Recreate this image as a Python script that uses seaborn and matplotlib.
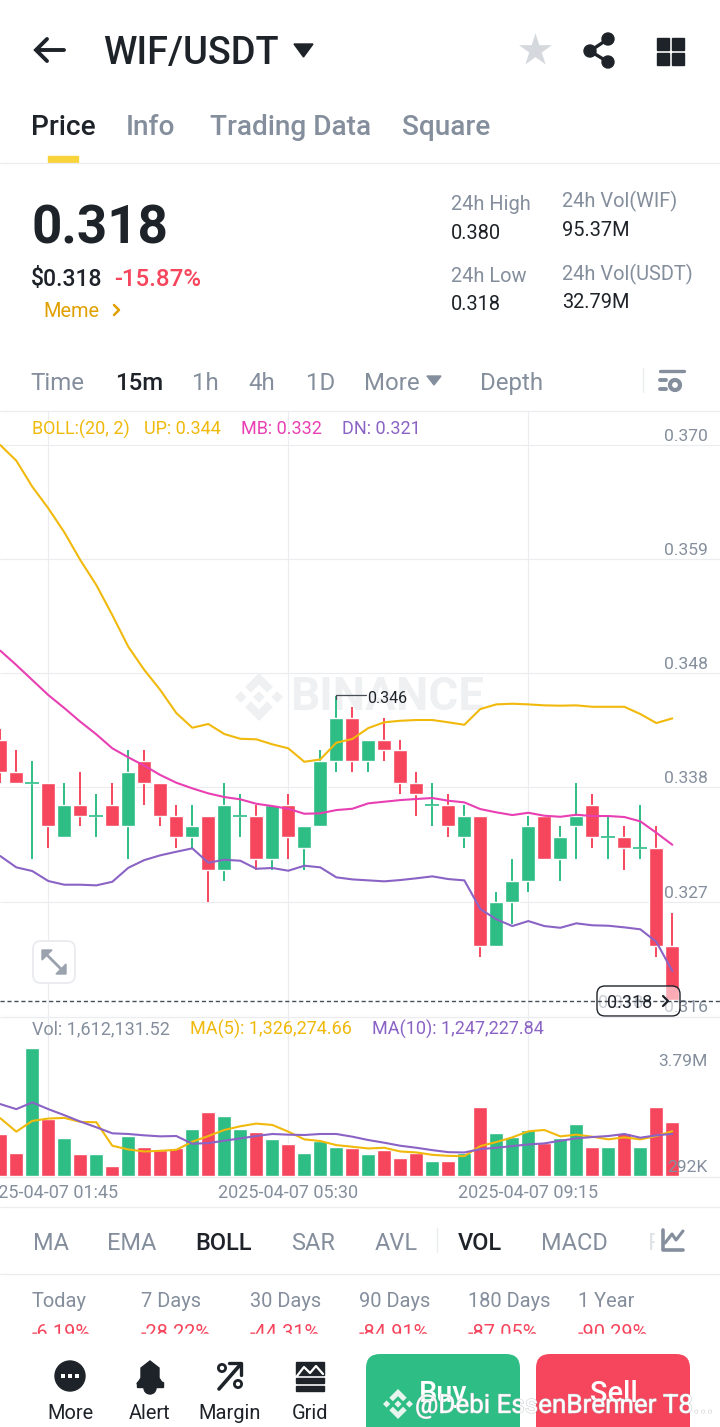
import numpy as np
import pandas as pd
import seaborn as sns
import matplotlib.pyplot as plt
import matplotlib.patheffects as pe
from matplotlib.patches import FancyBboxPatch, Polygon, Circle, Rectangle
from matplotlib.transforms import ScaledTranslation

# candles, 15m WIF/USDT
opens = [.342, .339, .338, .338, .333, .336, .335, .336, .334, .340, .338, .335, .333, .335, .330, .335, .335, .331, .336, .332, .334, .340,
         .344, .340, .342, .341, .338, .336, .336, .333, .335, .323, .327, .329, .335, .331, .334, .336, .333, .333, .332, .332, .323]
closes = [.339, .338, .338, .334, .336, .335, .335, .334, .339, .338, .335, .333, .334, .330, .336, .335, .331, .336, .333, .334, .340, .344,
          .340, .342, .341, .338, .337, .336, .334, .335, .323, .327, .329, .334, .331, .333, .335, .333, .333, .332, .332, .323, .318]
highs = [.343, .341, .340, .338, .338, .339, .337, .338, .341, .341, .338, .336, .336, .335, .338, .337, .336, .336, .337, .334, .341, .346,
         .345, .342, .344, .342, .339, .338, .337, .336, .335, .328, .331, .335, .335, .334, .338, .337, .335, .334, .336, .334, .326]
lows = [.338, .338, .331, .332, .333, .334, .333, .334, .331, .336, .334, .332, .332, .327, .329, .333, .330, .330, .331, .330, .334, .339,
        .339, .339, .340, .337, .335, .334, .333, .332, .322, .323, .325, .328, .331, .329, .331, .332, .331, .330, .331, .322, .318]

boll_up = [.36915, .36771, .36531, .36332, .36111, .35855, .35625, .35348, .35056, .34842, .34657, .34445, .34310, .34344, .34252,
           .34208, .34203, .34157, .34120, .33996, .34018, .34172, .34206, .34307, .34360, .34374, .34381, .34381, .34360, .34337,
           .34482, .34525, .34531, .34525, .34516, .34513, .34516, .34503, .34503, .34503, .34436, .34353, .34396]
boll_mb = [.35020, .34888, .34749, .34611, .34491, .34365, .34249, .34120, .34037, .33960, .33874, .33803, .33751, .33705, .33671,
           .33650, .33609, .33588, .33563, .33517, .33521, .33551, .33563, .33613, .33628, .33643, .33653, .33662, .33637, .33622,
           .33560, .33530, .33505, .33526, .33499, .33489, .33508, .33496, .33496, .33487, .33447, .33342, .33231]
boll_dn = [.33127, .33023, .32989, .32897, .32863, .32863, .32857, .32890, .33019, .33090, .33134, .33167, .33198, .33066, .33093,
           .33084, .33010, .33017, .32992, .33038, .33023, .32931, .32912, .32903, .32894, .32906, .32922, .32940, .32915, .32903,
           .32639, .32544, .32482, .32528, .32482, .32466, .32507, .32489, .32485, .32470, .32452, .32337, .32067]

volumes = [1244000, 667000, 3790000, 1680000, 1134000, 647000, 647000, 292000, 1184000, 856000, 756000, 826000, 1393000, 1881000, 1771000,
           1403000, 1313000, 1095000, 955000, 667000, 1025000, 846000, 826000, 647000, 766000, 547000, 687000, 448000, 438000, 687000,
           2040000, 1264000, 1144000, 1353000, 965000, 1114000, 1532000, 866000, 866000, 1264000, 856000, 2040000, 1612131]
vol_ma5 = [1711000, 1313000, 1632000, 1701000, 1721000, 1602000, 1592000, 896000, 786000, 726000, 746000, 776000, 1015000, 1184000, 1363000,
           1473000, 1552000, 1512000, 1313000, 1085000, 1035000, 915000, 866000, 816000, 836000, 726000, 697000, 627000, 597000, 587000,
           886000, 1005000, 1144000, 1323000, 1363000, 1174000, 1224000, 1164000, 1085000, 1144000, 1085000, 1184000, 1326274]
vol_ma10 = [2129000, 1980000, 2179000, 1980000, 1801000, 1612000, 1443000, 1264000, 1244000, 1204000, 1174000, 1184000, 955000, 975000, 1045000,
            1114000, 1184000, 1244000, 1224000, 1214000, 1244000, 1244000, 1164000, 1065000, 985000, 896000, 836000, 766000, 706000, 697000,
            796000, 836000, 886000, 935000, 965000, 1045000, 1114000, 1154000, 1184000, 1244000, 1134000, 1204000, 1247227]

price_ticks = [.36915, .35865, .34814, .33759, .32703, .31653]
price_labels = ["0.370", "0.359", "0.348", "0.338", "0.327", "0.316"]
date_ticks = [3, 18, 33]
date_labels = ["2025-04-07 01:45", "2025-04-07 05:30", "2025-04-07 09:15"]

tabs = [("Price", 31), ("Info", 126), ("Trading Data", 210), ("Square", 402)]
intervals = [("Time", 30), ("15m", 115), ("1h", 192), ("4h", 248), ("1D", 306), ("More", 364), ("Depth", 480)]
indicators = [("MA", 33), ("EMA", 107), ("BOLL", 195), ("SAR", 291), ("AVL", 375), ("VOL", 458), ("MACD", 541)]
periods = ["Today", "7 Days", "30 Days", "90 Days", "180 Days", "1 Year"]
period_changes = ["-6.19%", "-28.22%", "-44.31%", "-84.91%", "-87.05%", "-90.29%"]
period_x = [32, 141, 250, 359, 468, 578]

GREEN = "#2ebd85"
RED = "#f6465d"
GOLD = "#f0b90b"
PINK = "#e83fb2"
PURPLE = "#8a63c5"
DARK = "#1e2329"
GREY = "#848e9c"
GRID = "#eaecef"

sns.set_theme(style="white")
plt.rcParams["font.family"] = ["Roboto", "DejaVu Sans"]

W, H = 720, 1427
fig = plt.figure(figsize=(W / 100, H / 100), dpi=100, facecolor="white")


def px_axes(top, bottom):
    return fig.add_axes([0, 1 - bottom / H, 1, (bottom - top) / H])


ax = px_axes(411, 1016)
ax_vol = px_axes(1016, 1176)
ui = fig.add_axes([0, 0, 1, 1], zorder=10)
ui.set_xlim(0, W)
ui.set_ylim(H, 0)
ui.axis("off")
ui.patch.set_alpha(0)


def binance_logo(target, cx, cy, r, color, zorder):
    # unit shapes, y down
    shapes = [
        [(0, -.24), (.24, 0), (0, .24), (-.24, 0)],
        [(-.76, -.24), (-.52, 0), (-.76, .24), (-1, 0)],
        [(.76, -.24), (1, 0), (.76, .24), (.52, 0)],
        [(0, -1), (.58, -.42), (.34, -.18), (0, -.52), (-.34, -.18), (-.58, -.42)],
        [(0, 1), (.58, .42), (.34, .18), (0, .52), (-.34, .18), (-.58, .42)],
    ]
    for s in shapes:
        pts = [(cx + r * a, cy + r * b) for a, b in s]
        target.add_patch(Polygon(pts, closed=True, color=color, lw=0, zorder=zorder,
                                 transform=ui.transData, clip_on=False))


x = np.arange(len(opens))
xlim = (-0.02, 44.98)
is_up = np.array(closes) >= np.array(opens)
colors = [GREEN if u else RED for u in is_up]

# price panel
ax.set_xlim(xlim)
ax.set_ylim(.31653, .37229)
ax.vlines(date_ticks, .31653, .37229, color=GRID, lw=0.8, zorder=0)
ax.hlines(price_ticks, *xlim, color=GRID, lw=0.8, zorder=0)

ax.text(290, 697, "BINANCE", transform=ui.transData, fontsize=33, fontweight="bold",
        color="#eef0f2", ha="left", va="center", zorder=0.5, clip_on=False)
binance_logo(ax, 259, 697, 24, "#eef0f2", 0.5)

ax.vlines(x, lows, highs, color=colors, lw=1.4, zorder=2)
bodies = np.abs(np.array(closes) - np.array(opens))
bottoms = np.minimum(opens, closes)
ax.bar(x, bodies, bottom=bottoms, width=0.875, color=colors, zorder=3)
flat = bodies == 0
ax.hlines(np.array(closes)[flat], x[flat] - 0.44, x[flat] + 0.44, color=GREEN, lw=1.2, zorder=3)

boll = pd.DataFrame({"x": x, "up": boll_up, "mb": boll_mb, "dn": boll_dn})
sns.lineplot(data=boll, x="x", y="up", color=GOLD, lw=1.5, ax=ax, zorder=4, errorbar=None)
sns.lineplot(data=boll, x="x", y="mb", color=PINK, lw=1.5, ax=ax, zorder=4, errorbar=None)
sns.lineplot(data=boll, x="x", y="dn", color=PURPLE, lw=1.5, ax=ax, zorder=4, errorbar=None)

ax.set_xlabel("")
ax.set_ylabel("")
ax.set_xticks([])
ax.yaxis.tick_right()
ax.set_yticks(price_ticks)
ax.set_yticklabels(price_labels, fontsize=12.6, color=GREY, ha="right", va="bottom")
ax.tick_params(axis="y", length=0, pad=-8.5)
up_1px = ScaledTranslation(0, 1 / 100, fig.dpi_scale_trans)
for t in ax.get_yticklabels():
    t.set_transform(t.get_transform() + up_1px)
sns.despine(ax=ax, left=True, right=True, top=True, bottom=True)
ax.patch.set_alpha(0)

# volume panel
ax_vol.set_xlim(xlim)
vol_df = pd.DataFrame({"x": x, "vol": volumes, "dir": ["up" if u else "down" for u in is_up],
                       "ma5": vol_ma5, "ma10": vol_ma10})
ax_vol.vlines(date_ticks, 0, 5360000, color=GRID, lw=0.8, zorder=0)
sns.barplot(data=vol_df, x="x", y="vol", hue="dir", palette={"up": GREEN, "down": RED}, native_scale=True,
            dodge=False, width=0.875, legend=False, ax=ax_vol, zorder=3, saturation=1)
sns.lineplot(data=vol_df, x="x", y="ma5", color=GOLD, lw=1.5, ax=ax_vol, zorder=4, errorbar=None)
sns.lineplot(data=vol_df, x="x", y="ma10", color=PURPLE, lw=1.5, ax=ax_vol, zorder=4, errorbar=None)
ax_vol.set_xlim(xlim)
ax_vol.set_ylim(0, 4738000)
ax_vol.set_xlabel("")
ax_vol.set_ylabel("")
ax_vol.set_yticks([])
ax_vol.set_xticks(date_ticks)
ax_vol.set_xticklabels(date_labels, fontsize=13, color=GREY)
ax_vol.tick_params(axis="x", length=0, pad=6)
sns.despine(ax=ax_vol, left=True, right=True, top=True, bottom=True)
ax_vol.patch.set_alpha(0)


def label(x0, y0, s, size, color=DARK, weight="normal", ha="left", **kw):
    # roboto sits a bit high with va=center, nudge it down
    return ui.text(x0, y0 + size * 0.07, s, fontsize=size * 0.72, color=color, fontweight=weight, ha=ha, va="center", **kw)


def rule(y0, color=GRID, lw=0.9, x0=0, x1=W):
    ui.plot([x0, x1], [y0, y0], color=color, lw=lw, solid_capstyle="butt")


def box(x0, y0, w, h, r, **kw):
    ui.add_patch(FancyBboxPatch((x0 + r, y0 + r), w - 2 * r, h - 2 * r, boxstyle=f"round,pad={r}", **kw))


# header
ui.plot([37, 64], [50, 50], color=DARK, lw=2.8, solid_capstyle="round")
ui.plot([47, 36, 47], [39, 50, 61], color=DARK, lw=2.8, solid_capstyle="round", solid_joinstyle="miter")
label(103, 51, "WIF/USDT", 38, weight="medium")
ui.add_patch(Polygon([[294, 44], [313, 44], [303.5, 57]], color=DARK))
ui.scatter([535], [50], s=620, marker="*", color="#d5d9de", linewidths=0)
for cx, cy in [(608, 39), (590, 51), (608, 62)]:
    ui.add_patch(Circle((cx, cy), 6, color=DARK))
ui.plot([608, 590, 608], [39, 51, 62], color=DARK, lw=2.4)
for gx, gy in [(657, 38), (672, 38), (657, 53), (672, 53)]:
    ui.add_patch(Rectangle((gx, gy), 11.5, 11.5, color=DARK))

for name, tx in tabs:
    label(tx, 126, name, 28, color=DARK if name == "Price" else GREY, weight="medium")
ui.add_patch(Rectangle((48, 156), 30, 6, color="#f8d33a"))
rule(162.5)

label(31, 225, "0.318", 53, weight="bold")
label(31, 278, "$0.318", 23, weight="medium")
label(114, 278, "-15.87%", 24, color=RED, weight="medium")
label(43, 310, "Meme", 20, color="#e0a000")
ui.plot([114, 119, 114], [305, 310, 315], color="#e0a000", lw=1.8)

label(451, 203, "24h High", 20, color=GREY)
label(451, 232, "0.380", 20)
label(451, 275, "24h Low", 20, color=GREY)
label(451, 303, "0.318", 20)
label(562, 200, "24h Vol(WIF)", 20, color=GREY)
label(562, 229, "95.37M", 20)
label(562, 273, "24h Vol(USDT)", 20, color=GREY)
label(562, 301, "32.79M", 20)

for name, tx in intervals:
    active = name == "15m"
    label(tx, 382, name, 24, color=DARK if active else GREY, weight="medium" if active else "normal")
ui.add_patch(Polygon([[427, 376], [441, 376], [434, 385]], color=GREY))
ui.plot([642.5, 642.5], [368, 392], color=GRID, lw=1)
ui.plot([660, 684], [371, 371], color=GREY, lw=2.4)
ui.plot([660, 666], [380, 380], color=GREY, lw=2.8)
ui.plot([660, 666], [389, 389], color=GREY, lw=2.8)
ui.add_patch(Circle((675, 385), 5, fill=False, ec=GREY, lw=3))
rule(410.5)

# indicator legends
label(32, 428, "BOLL:(20, 2)", 18, color=GOLD)
label(144, 428, "UP: 0.344", 18, color=GOLD)
label(241, 428, "MB: 0.332", 18, color=PINK)
label(342, 428, "DN: 0.321", 18, color=PURPLE)

# high marker
ui.plot([336, 336, 366], [699, 694.5, 694.5], color="#474d57", lw=0.9)
label(367, 697, "0.346", 16)

# expand button
box(33, 941, 42, 42, 8, fc="white", ec=GRID, lw=1.4)
ui.add_patch(Polygon([[42, 950], [52, 950], [42, 960]], color="#9aa2ad"))
ui.add_patch(Polygon([[66, 974], [56, 974], [66, 964]], color="#9aa2ad"))
ui.plot([44, 64], [952, 972], color="#9aa2ad", lw=2)

# last price
ui.plot([0, W], [1001, 1001], color="#474d57", lw=1, dashes=(3, 2))
label(598, 1002, "0.318", 18, color="#8d95a0", zorder=0.5)
box(597, 986, 83, 30, 8, fc=(1, 1, 1, 0.55), ec=DARK, lw=1)
label(607, 1002, "0.318", 18)
ui.plot([663, 668, 663], [996, 1001, 1006], color=DARK, lw=1.6)
rule(1016.5)

label(32, 1028, "Vol: 1,612,131.52", 18, color=GREY)
label(190, 1028, "MA(5): 1,326,274.66", 18, color=GOLD)
label(372, 1028, "MA(10): 1,247,227.84", 18, color=PURPLE)
label(708, 1060, "3.79M", 17.5, color=GREY, ha="right")
label(708, 1166, "292K", 17.5, color=GREY, ha="right")
rule(1176.5)
rule(1206.5)

# indicator tabs
for name, tx in indicators:
    active = name in ("BOLL", "VOL")
    label(tx, 1242, name, 23.5, color=DARK if active else GREY, weight="medium" if active else "normal")
label(648, 1242, "R", 23.5, color="#dfe2e6", zorder=2)
ui.add_patch(Rectangle((655, 1226), 40, 32, color="white", zorder=2.5))
ui.plot([663, 663, 683], [1230, 1250, 1250], color=GREY, lw=2.6, zorder=3)
ui.plot([665, 672, 676, 683], [1243, 1234, 1240, 1231], color=GREY, lw=2.2, zorder=3)
ui.plot([437, 437], [1228, 1252], color=GRID, lw=1)
rule(1273.5)

# performance row
for name, val, tx in zip(periods, period_changes, period_x):
    label(tx, 1300, name, 20, color=GREY)
    label(tx, 1332, val, 20, color=RED)
ui.add_patch(Rectangle((0, 1334), W, 93, color="white", zorder=3.5))

# bottom bar
for name, tx in [("More", 70), ("Alert", 150), ("Margin", 230), ("Grid", 310)]:
    label(tx, 1412, name, 20, ha="center", zorder=5)
ui.add_patch(Circle((70, 1376), 15, color=DARK, zorder=5))
ui.scatter([63, 70, 77], [1376, 1376, 1376], s=7, marker="s", color="white", zorder=6, linewidths=0)
ui.add_patch(Polygon([[137, 1384], [141, 1378], [141, 1368], [150, 1361], [159, 1368], [159, 1378], [163, 1384]], color=DARK, zorder=5))
ui.add_patch(Rectangle((137, 1382), 26, 5, color=DARK, zorder=5))
ui.add_patch(Circle((150, 1388), 6, color=DARK, zorder=4.9))
ui.plot([219, 240], [1389, 1365], color=DARK, lw=2.6, zorder=5)
ui.plot([229, 241, 241], [1363, 1363, 1375], color=DARK, lw=2.4, zorder=5)
ui.add_patch(Circle((222, 1368), 3.6, fc="white", ec=DARK, lw=2, zorder=5))
ui.add_patch(Circle((238, 1384), 3.6, fc="white", ec=DARK, lw=2, zorder=5))
ui.add_patch(Rectangle((296, 1362), 28, 13, color=DARK, zorder=5))
ui.plot([297, 304, 310, 316, 323], [1376, 1367, 1373, 1366, 1374], color="white", lw=1.6, zorder=6)
ui.add_patch(Rectangle((296, 1378), 28, 5, color=DARK, zorder=5))
ui.add_patch(Rectangle((296, 1386), 28, 5, color=DARK, zorder=5))

box(366, 1354, 154, 90, 14, fc=GREEN, ec="none", zorder=5)
box(536, 1354, 154, 90, 14, fc=RED, ec="none", zorder=5)
label(443, 1392, "Buy", 29, color="white", weight="medium", ha="center", zorder=6)
label(614, 1392, "Sell", 29, color="white", weight="medium", ha="center", zorder=6)

# watermark
binance_logo(ui, 398, 1404, 15, "#e8f5ef", 7)
wm = label(415, 1404, "@Debi EssenBrenner T8...", 26, color="white", zorder=7)
wm.set_path_effects([pe.withStroke(linewidth=0.7, foreground="#c4c8cc")])

fig.savefig("out.png", dpi=100)
